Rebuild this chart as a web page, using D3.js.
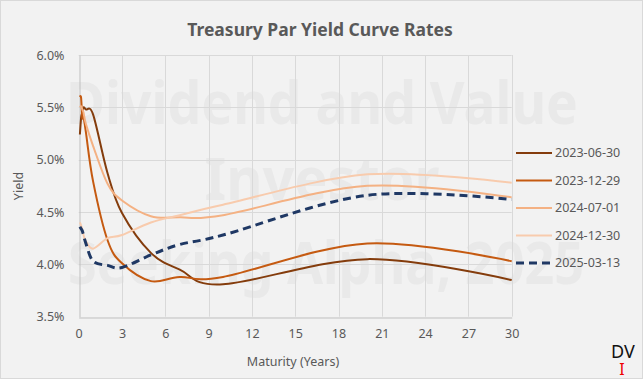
<!DOCTYPE html>
<html>
<head>
<meta charset="utf-8">
<script src="https://cdn.jsdelivr.net/npm/d3@7"></script>
<style>
  body { margin: 0; background: #fff; }
  svg text { font-family: "Noto Sans", "Open Sans", sans-serif; }
</style>
</head>
<body>
<svg id="chart" width="643" height="379"></svg>
<script>
// data
var maturities = [1/12, 2/12, 3/12, 4/12, 6/12, 1, 2, 3, 5, 7, 10, 20, 30];
var seriesNames = ["2023-06-30", "2023-12-29", "2024-07-01", "2024-12-30", "2025-03-13"];
var y20230630 = [5.24, 5.40, 5.45, 5.50, 5.48, 5.43, 4.87, 4.49, 4.11, 3.95, 3.81, 4.05, 3.85];
var y20231229 = [5.60, 5.59, 5.40, 5.41, 5.26, 4.79, 4.23, 4.01, 3.84, 3.88, 3.88, 4.20, 4.03];
var y20240701 = [5.50, 5.51, 5.48, 5.45, 5.34, 5.13, 4.77, 4.61, 4.46, 4.45, 4.47, 4.75, 4.64];
var y20241230 = [4.40, 4.37, 4.33, 4.28, 4.22, 4.15, 4.25, 4.28, 4.40, 4.47, 4.57, 4.86, 4.78];
var y20250313 = [4.36, 4.34, 4.32, 4.28, 4.20, 4.03, 3.99, 3.97, 4.09, 4.19, 4.28, 4.66, 4.62];
var xTicks = [0, 3, 6, 9, 12, 15, 18, 21, 24, 27, 30];
var yTicks = [3.5, 4.0, 4.5, 5.0, 5.5, 6.0];

var allSeries = [y20230630, y20231229, y20240701, y20241230, y20250313];
var colors = ["#843c0c", "#c55a11", "#f4b183", "#f8cbad", "#1f3864"];

var svg = d3.select("#chart");

svg.append("rect")
    .attr("x", 0.5).attr("y", 0.5)
    .attr("width", 642).attr("height", 378)
    .attr("fill", "#f2f2f2")
    .attr("stroke", "#d9d9d9");

var x = d3.scaleLinear().domain([0, 30]).range([78.7, 511.7]);
var y = d3.scaleLinear().domain([3.5, 6.0]).range([316.7, 55]);

// watermark
var wm = svg.append("g").attr("fill", "#e9e9e9").attr("font-weight", "bold")
    .attr("font-size", 60).attr("text-anchor", "middle");
wm.append("text").attr("x", 322).attr("y", 124).attr("textLength", 512)
    .attr("lengthAdjust", "spacingAndGlyphs").text("Dividend and Value");
wm.append("text").attr("x", 322).attr("y", 200).attr("textLength", 235)
    .attr("lengthAdjust", "spacingAndGlyphs").text("Investor");
wm.append("text").attr("x", 326).attr("y", 284).attr("textLength", 516)
    .attr("lengthAdjust", "spacingAndGlyphs").text("Seeking Alpha, 2025");

// gridlines
svg.append("g").selectAll("line")
    .data(yTicks.slice(1))
    .enter().append("line")
    .attr("x1", x(0)).attr("x2", x(30))
    .attr("y1", function(d) { return Math.round(y(d)) + 0.5; })
    .attr("y2", function(d) { return Math.round(y(d)) + 0.5; })
    .attr("stroke", "#d9d9d9");

svg.append("g").selectAll("line")
    .data(xTicks.slice(1))
    .enter().append("line")
    .attr("x1", function(d) { return Math.round(x(d)) + 0.5; })
    .attr("x2", function(d) { return Math.round(x(d)) + 0.5; })
    .attr("y1", y(6.0)).attr("y2", y(3.5))
    .attr("stroke", "#d9d9d9");

// axes
var xAxis = svg.append("g")
    .attr("transform", "translate(0," + (Math.round(y(3.5)) + 0.5) + ")")
    .call(d3.axisBottom(x).tickValues(xTicks).tickSize(0).tickPadding(12));
var yAxis = svg.append("g")
    .attr("transform", "translate(" + (Math.round(x(0)) + 0.5) + ",0)")
    .call(d3.axisLeft(y).tickValues(yTicks).tickSize(0).tickPadding(15)
        .tickFormat(function(d) { return d.toFixed(1) + "%"; }));

xAxis.select(".domain").attr("stroke", "#bfbfbf");
yAxis.select(".domain").attr("stroke", "#bfbfbf");
svg.selectAll(".tick text").attr("fill", "#595959").attr("font-size", 12.5)
    .attr("font-family", "'Noto Sans', sans-serif");

svg.append("text")
    .attr("x", 320).attr("y", 36)
    .attr("text-anchor", "middle")
    .attr("font-size", 17.5).attr("font-weight", "bold")
    .attr("fill", "#595959")
    .text("Treasury  Par Yield Curve Rates");

svg.append("text")
    .attr("x", 293).attr("y", 366)
    .attr("text-anchor", "middle")
    .attr("font-size", 12.5).attr("fill", "#595959")
    .text("Maturity (Years)");

svg.append("text")
    .attr("transform", "translate(23,186) rotate(-90)")
    .attr("text-anchor", "middle")
    .attr("font-size", 12.5).attr("fill", "#595959")
    .text("Yield");

// curves, Excel style smoothing
var line = d3.line()
    .x(function(d, i) { return x(maturities[i]); })
    .y(function(d) { return y(d); })
    .curve(d3.curveCardinal.tension(0));

allSeries.forEach(function(vals, i) {
    svg.append("path")
        .attr("d", line(vals))
        .attr("fill", "none")
        .attr("stroke", colors[i])
        .attr("stroke-width", i == 4 ? 3 : 2)
        .attr("stroke-dasharray", i == 4 ? "8,5" : null);
});

// legend
var legend = svg.append("g").selectAll("g")
    .data(seriesNames)
    .enter().append("g")
    .attr("transform", function(d, i) { return "translate(516," + (153 + i * 27.5) + ")"; });

legend.append("line")
    .attr("x1", 0).attr("x2", 36)
    .attr("stroke", function(d, i) { return colors[i]; })
    .attr("stroke-width", function(d, i) { return i == 4 ? 3 : 2; })
    .attr("stroke-dasharray", function(d, i) { return i == 4 ? "8,5" : null; });

legend.append("text")
    .attr("x", 39).attr("dy", "0.35em")
    .attr("font-size", 12.5).attr("fill", "#595959")
    .text(function(d) { return d; });

// DV mark
svg.append("text").attr("x", 623).attr("y", 358).attr("text-anchor", "middle")
    .attr("font-size", 18).attr("fill", "#111").text("DV");
svg.append("text").attr("x", 622).attr("y", 375).attr("text-anchor", "middle")
    .attr("font-size", 16).attr("font-family", "'DejaVu Serif', serif")
    .attr("fill", "#e00").text("I");
</script>
</body>
</html>
